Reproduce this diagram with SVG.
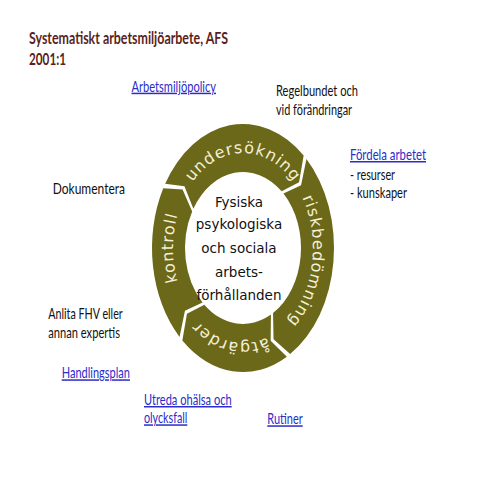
<svg xmlns="http://www.w3.org/2000/svg" width="480" height="480" viewBox="0 0 480 480">
<style>
.lbl{font-family:Lato,"Liberation Sans",sans-serif;font-size:15px;fill:#111}
.lnk{font-family:Lato,"Liberation Sans",sans-serif;font-size:15px;fill:#2c2cc8;text-decoration:underline}
.ttl{font-family:Lato,"Liberation Sans",sans-serif;font-size:17px;font-weight:bold;fill:#5a1f22}
.seg{fill:#6b6819}
.ring{font-family:"DejaVu Sans",sans-serif;font-size:16px;fill:#f4f0d6;letter-spacing:1px}
.ctr{font-family:"DejaVu Sans",sans-serif;font-size:13.5px;fill:#111;text-anchor:middle}
</style>
<defs>
<path id="pU" d="M185.66,193.51 A70,95 0 0 1 300.34,193.51"/>
<path id="pR" d="M296.62,186.93 A70,95 0 0 1 278,330.27"/>
<path id="pA" d="M266.94,337.27 A70,95 0 0 1 198,320.77"/>
<path id="pK" d="M182.38,295.5 A70,95 0 0 1 182.38,200.5"/>
</defs>
<rect width="480" height="480" fill="#fff"/>
<g id="title">
<text class="ttl" x="29" y="43.5" textLength="199" lengthAdjust="spacingAndGlyphs">Systematiskt arbetsmiljöarbete, AFS</text>
<text class="ttl" x="29" y="64.5" textLength="37" lengthAdjust="spacingAndGlyphs">2001:1</text>
</g>
<g id="cycle">
<g id="seg-undersokning">
<path class="seg" d="M165.16,183.77 A91,124 0 0 1 303.65,155.56 L299.04,182.13 L281.66,191.34 A58,76 0 0 0 193.39,208.63 L184.45,186.16 Z"/>
<text class="ring"><textPath href="#pU" startOffset="50%" text-anchor="middle">undersökning</textPath></text>
</g>
<g id="seg-riskbedomning">
<path class="seg" d="M306.45,159.10 A91,124 0 0 1 290.14,354.07 L273.54,339.21 L273.04,313.01 A58,76 0 0 0 283.44,193.52 L301.06,185.34 Z"/>
<text class="ring"><textPath href="#pR" startOffset="50%" text-anchor="middle">riskbedömning</textPath></text>
</g>
<g id="seg-atgarder">
<path class="seg" d="M286.84,356.66 A91,124 0 0 1 182.35,340.44 L186.95,313.87 L204.34,304.66 A58,76 0 0 0 270.94,314.60 L270.67,340.85 Z"/>
<text class="ring"><textPath href="#pA" startOffset="50%" text-anchor="middle">åtgärder</textPath></text>
</g>
<g id="seg-kontroll">
<path class="seg" d="M179.55,336.90 A91,124 0 0 1 163.26,188.26 L182.57,189.50 L192.17,211.38 A58,76 0 0 0 202.56,302.48 L184.94,310.66 Z"/>
<text class="ring"><textPath href="#pK" startOffset="50%" text-anchor="middle">kontroll</textPath></text>
</g>
</g>
<g id="center">
<text class="ctr" x="239" y="207">Fysiska</text>
<text class="ctr" x="239" y="229">psykologiska</text>
<text class="ctr" x="239" y="253">och sociala</text>
<text class="ctr" x="239" y="277">arbets-</text>
<text class="ctr" x="239" y="300">förhållanden</text>
</g>
<g id="labels">
<text class="lnk" x="131.5" y="91.7" textLength="84.5" lengthAdjust="spacingAndGlyphs">Arbetsmiljöpolicy</text>
<text class="lbl" x="276" y="96" textLength="82" lengthAdjust="spacingAndGlyphs">Regelbundet och</text>
<text class="lbl" x="276" y="115" textLength="76" lengthAdjust="spacingAndGlyphs">vid förändringar</text>
<text class="lnk" x="350" y="160" textLength="76" lengthAdjust="spacingAndGlyphs">Fördela arbetet</text>
<text class="lbl" x="350" y="180" textLength="45" lengthAdjust="spacingAndGlyphs">- resurser</text>
<text class="lbl" x="350" y="197.7" textLength="57" lengthAdjust="spacingAndGlyphs">- kunskaper</text>
<text class="lbl" x="52.7" y="194" font-size="16" textLength="72.3" lengthAdjust="spacingAndGlyphs">Dokumentera</text>
<text class="lbl" x="48.3" y="319.3" textLength="74.4" lengthAdjust="spacingAndGlyphs">Anlita FHV eller</text>
<text class="lbl" x="48.3" y="337.7" textLength="71.7" lengthAdjust="spacingAndGlyphs">annan expertis</text>
<text class="lnk" x="61.7" y="378.3" textLength="68.3" lengthAdjust="spacingAndGlyphs">Handlingsplan</text>
<text class="lnk" x="144" y="405" textLength="87.7" lengthAdjust="spacingAndGlyphs">Utreda ohälsa och</text>
<text class="lnk" x="144" y="423.3" textLength="43.3" lengthAdjust="spacingAndGlyphs">olycksfall</text>
<text class="lnk" x="267.3" y="424.3" textLength="35.4" lengthAdjust="spacingAndGlyphs">Rutiner</text>
</g>
</svg>
